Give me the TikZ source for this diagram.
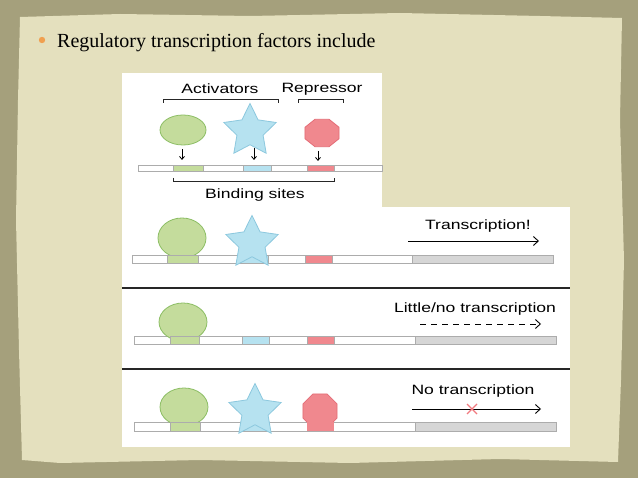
\documentclass[tikz,border=0pt]{standalone}
\usepackage{fontspec}
\setmainfont{Liberation Serif}
\newfontfamily\handfont{Liberation Sans}
\usetikzlibrary{shapes.geometric,arrows.meta}
\definecolor{outerbg}{RGB}{165,160,124}
\definecolor{paper}{RGB}{228,224,190}
\definecolor{gfill}{RGB}{196,220,156}
\definecolor{gdraw}{RGB}{140,190,100}
\definecolor{bfill}{RGB}{182,226,240}
\definecolor{bdraw}{RGB}{140,200,222}
\definecolor{rfill}{RGB}{240,136,142}
\definecolor{rdraw}{RGB}{228,108,118}
\definecolor{stripdraw}{RGB}{172,172,172}
\definecolor{grayfill}{RGB}{214,214,214}
\definecolor{bulletc}{RGB}{240,160,80}
\newcommand\hand[1]{\scalebox{1.3}[1]{\handfont #1}}
\tikzset{
  blob/.style={ellipse, fill=gfill, draw=gdraw, line width=0.8pt, minimum width=46pt, minimum height=36pt, inner sep=0pt},
  starry/.style={star, star points=5, star point ratio=2.0, fill=bfill, draw=bdraw, line width=0.8pt, minimum size=55pt, inner sep=0pt},
  octo/.style={regular polygon, regular polygon sides=8, fill=rfill, draw=rdraw, line width=0.8pt, minimum size=37pt, inner sep=0pt},
  stripbox/.style={fill=white, draw=stripdraw, line width=0.7pt},
  graybox/.style={fill=grayfill, draw=stripdraw, line width=0.7pt},
  gsite/.style={fill=gfill, draw=stripdraw, line width=0.6pt},
  bsite/.style={fill=bfill, draw=stripdraw, line width=0.6pt},
  rsite/.style={fill=rfill, draw=stripdraw, line width=0.6pt},
  lbl/.style={font=\fontsize{13.5}{15}\selectfont, inner sep=0pt},
  brk/.style={line width=0.9pt, black!85},
  downarrow/.style={-{Straight Barb[length=3pt,width=5pt]}, line width=0.8pt},
  txarrow/.style={-{Straight Barb[length=5pt,width=9pt]}, line width=0.9pt},
  divider/.style={line width=1.3pt, black!85}
}
\begin{document}
\begin{tikzpicture}[x=1pt,y=-1pt]
\useasboundingbox (0,0) rectangle (638,478);
% background
\fill[outerbg] (0,0) rectangle (638,478);
\fill[paper] (20,17) -- (120,14) -- (250,16) -- (400,13) -- (540,16) -- (622,18)
  -- (620,120) -- (624,260) -- (621,380) -- (618,462)
  -- (500,459) -- (350,463) -- (200,460) -- (60,463) -- (22,460)
  -- (19,350) -- (16,220) -- (18,100) -- cycle;
% title
\fill[bulletc] (42,40) circle (3.2);
\node[anchor=base west, font=\fontsize{20}{24}\selectfont, inner sep=0pt] (title) at (57,48) {Regulatory transcription factors include};
% panels
\fill[white] (122,73) rectangle (382,207);
\fill[white] (122,207) rectangle (570,447);

% ---------- top panel ----------
\node[lbl] (act) at (220,89) {\hand{Activators}};
\node[lbl] (rep) at (322,89) {\hand{Repressor}};
\draw[brk] (163,103) -- (163,99) -- (278,99) -- (278,103);
\draw[brk] (298,103) -- (298,99) -- (343,99) -- (343,103);
\node[blob, minimum width=46pt, minimum height=30pt] (g0) at (183,130) {};
\node[starry] (s0) at (250,131) {};
\node[octo, yscale=0.8] (r0) at (322,133) {};
\draw[stripbox] (138,165) rectangle (382,171);
\node[gsite, minimum width=30pt, minimum height=6pt, inner sep=0pt] (gs0) at (188,168) {};
\node[bsite, minimum width=28pt, minimum height=6pt, inner sep=0pt] (bs0) at (257,168) {};
\node[rsite, minimum width=27pt, minimum height=6pt, inner sep=0pt] (rs0) at (320.5,168) {};
\coordinate (a1) at (182,149); \coordinate (a2) at (254,148); \coordinate (a3) at (318,151);
\draw[downarrow] (a1) -- (182,160);
\draw[downarrow] (a2) -- (254,160);
\draw[downarrow] (a3) -- (318,161);
\draw[brk] (173,178) -- (173,181) -- (334,181) -- (334,178);
\node[lbl] (bind) at (255,195) {\hand{Binding sites}};

% ---------- panel 2 ----------
\draw[stripbox] (132,255) rectangle (412,263);
\draw[graybox] (412,255) rectangle (553,263);
\node[rsite, minimum width=27pt, minimum height=8pt, inner sep=0pt] (rs1) at (318.5,259) {};
\node[bsite, minimum width=28pt, minimum height=8pt, inner sep=0pt] (bs1) at (254,259) {};
\node[blob, minimum width=48pt, minimum height=40pt] (g1) at (182,238) {};
\node[gsite, minimum width=31pt, minimum height=8pt, inner sep=0pt] (gs1) at (182.5,259) {};
\node[starry] (s1) at (252,243) {};
\node[lbl] (t1) at (478,226) {\hand{Transcription!}};
\coordinate (p1s) at (408,241); \coordinate (p1e) at (539,241);
\draw[txarrow] (p1s) -- (p1e);
\draw[divider] (122,288) -- (570,288);

% ---------- panel 3 ----------
\draw[stripbox] (134,336) rectangle (415,344);
\draw[graybox] (415,336) rectangle (556,344);
\node[bsite, minimum width=27pt, minimum height=8pt, inner sep=0pt] (bs2) at (255.5,340) {};
\node[rsite, minimum width=27pt, minimum height=8pt, inner sep=0pt] (rs2) at (320.5,340) {};
\node[blob, minimum width=48pt, minimum height=38pt] (g2) at (183,322) {};
\node[gsite, minimum width=29pt, minimum height=8pt, inner sep=0pt] (gs2) at (184.5,340) {};
\node[lbl] (t2) at (475,309) {\hand{Little/no transcription}};
\coordinate (p2s) at (420,324); \coordinate (p2e) at (541,324);
\draw[txarrow, dash pattern=on 6pt off 5pt] (p2s) -- (p2e);
\draw[divider] (122,369) -- (570,369);

% ---------- panel 4 ----------
\draw[stripbox] (134,422) rectangle (415,431);
\draw[graybox] (415,422) rectangle (556,431);
\node[bsite, minimum width=27pt, minimum height=9pt, inner sep=0pt] (bs3) at (255.5,426.5) {};
\node[blob, minimum width=48pt, minimum height=38pt] (g3) at (184,407) {};
\node[gsite, minimum width=30pt, minimum height=9pt, inner sep=0pt] (gs3) at (185,426.5) {};
\node[starry] (s3) at (255,411) {};
\node[octo] (r3) at (320,411) {};
\node[rsite, draw=none, minimum width=27pt, minimum height=9pt, inner sep=0pt] (rs3) at (320.5,426.5) {};
\node[lbl] (t3) at (473,391) {\hand{No transcription}};
\coordinate (p3s) at (412,409); \coordinate (p3e) at (541,409);
\draw[txarrow] (p3s) -- (p3e);
\coordinate (xm) at (472,409);
\draw[rfill!90!red, line width=1.1pt] ([shift={(-5,-5)}]xm) -- ([shift={(5,5)}]xm) ([shift={(-5,5)}]xm) -- ([shift={(5,-5)}]xm);
\end{tikzpicture}
\end{document}
